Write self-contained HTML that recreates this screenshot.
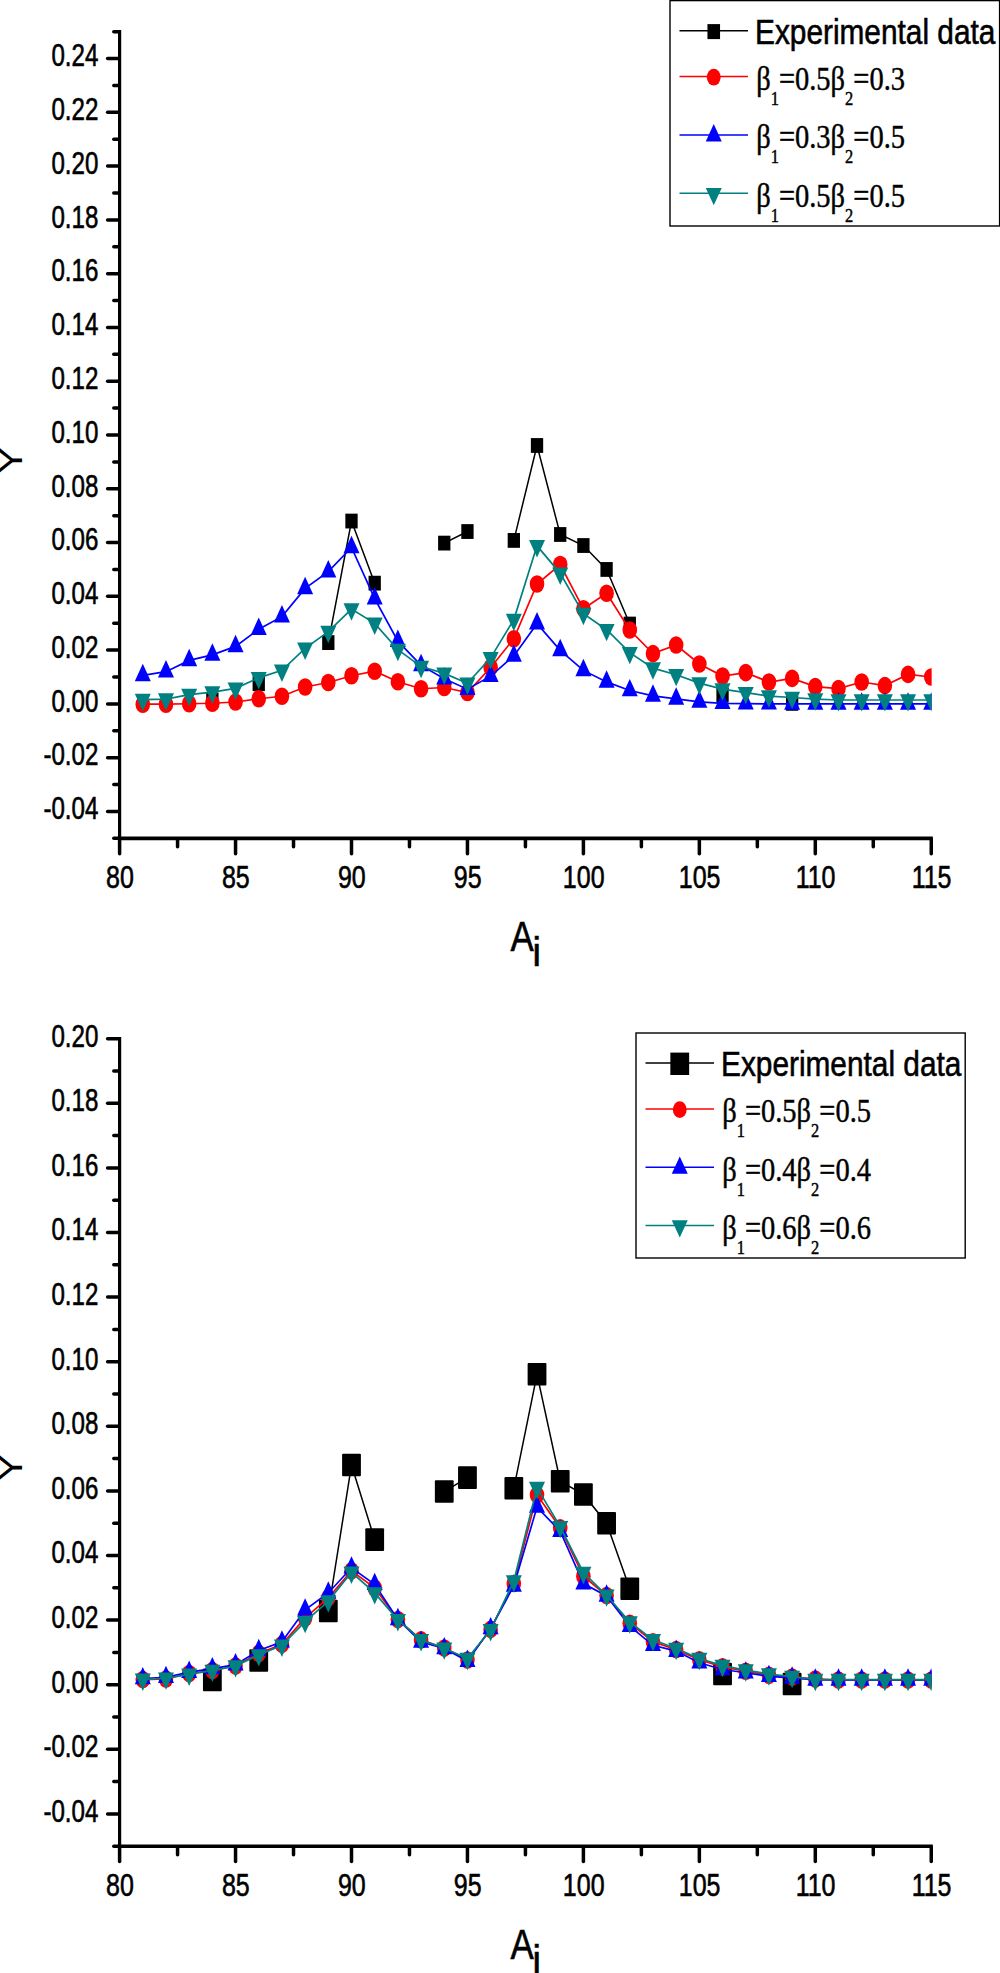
<!DOCTYPE html>
<html lang="en">
<head>
<meta charset="utf-8">
<title>Yield versus mass number</title>
<style>
html,body{margin:0;padding:0;background:#fff;}
body{width:1000px;height:1973px;overflow:hidden;}
svg{display:block;}
text.a{font-family:"Liberation Sans",sans-serif;fill:#000;}
text.t{font-family:"Liberation Serif",serif;fill:#000;}
</style>
</head>
<body>
<svg width="1000" height="1973" viewBox="0 0 1000 1973">
<rect x="0" y="0" width="1000" height="1973" fill="#fff"/>
<clipPath id="c1"><rect x="119.6" y="11.65" width="812.05" height="826.7"/></clipPath>
<g clip-path="url(#c1)">
<polyline points="328.31,642.59 351.5,521.05 374.69,583.16" fill="none" stroke="#000" stroke-width="1.5"/>
<polyline points="444.26,543.1 467.45,531.54" fill="none" stroke="#000" stroke-width="1.5"/>
<polyline points="513.83,540.41 537.02,445.49 560.21,534.49 583.4,545.52 606.59,569.45 629.78,624.04" fill="none" stroke="#000" stroke-width="1.5"/>
<g fill="#000">
<rect x="206.21" y="692.47" width="12.3" height="14.8"/>
<rect x="252.59" y="676.33" width="12.3" height="14.8"/>
<rect x="322.16" y="635.19" width="12.3" height="14.8"/>
<rect x="345.35" y="513.65" width="12.3" height="14.8"/>
<rect x="368.54" y="575.76" width="12.3" height="14.8"/>
<rect x="438.11" y="535.7" width="12.3" height="14.8"/>
<rect x="461.3" y="524.14" width="12.3" height="14.8"/>
<rect x="507.68" y="533.01" width="12.3" height="14.8"/>
<rect x="530.87" y="438.09" width="12.3" height="14.8"/>
<rect x="554.06" y="527.09" width="12.3" height="14.8"/>
<rect x="577.25" y="538.12" width="12.3" height="14.8"/>
<rect x="600.44" y="562.05" width="12.3" height="14.8"/>
<rect x="623.63" y="616.64" width="12.3" height="14.8"/>
<rect x="716.39" y="687.63" width="12.3" height="14.8"/>
<rect x="785.96" y="695.96" width="12.3" height="14.8"/>
</g>
<polyline points="142.79,704.2 165.98,704.2 189.17,703.75 212.36,703.25 235.55,702 258.74,698.75 281.93,696.25 305.12,687 328.31,682.5 351.5,675.75 374.69,671.25 397.88,681.75 421.07,688.75 444.26,687.5 467.45,692.5 490.64,667.5 513.83,638.75 537.02,584 560.21,564.5 583.4,608.8 606.59,593.3 629.78,630 652.97,653.6 676.16,645 699.35,664 722.54,676 745.73,672.6 768.92,682 792.11,678.4 815.3,686.6 838.49,688.6 861.68,682 884.87,685.6 908.06,674.4 931.25,677" fill="none" stroke="#ff0000" stroke-width="1.7"/>
<ellipse cx="142.79" cy="704.2" rx="7.3" ry="8.8" fill="#ff0000"/>
<ellipse cx="165.98" cy="704.2" rx="7.3" ry="8.8" fill="#ff0000"/>
<ellipse cx="189.17" cy="703.75" rx="7.3" ry="8.8" fill="#ff0000"/>
<ellipse cx="212.36" cy="703.25" rx="7.3" ry="8.8" fill="#ff0000"/>
<ellipse cx="235.55" cy="702" rx="7.3" ry="8.8" fill="#ff0000"/>
<ellipse cx="258.74" cy="698.75" rx="7.3" ry="8.8" fill="#ff0000"/>
<ellipse cx="281.93" cy="696.25" rx="7.3" ry="8.8" fill="#ff0000"/>
<ellipse cx="305.12" cy="687" rx="7.3" ry="8.8" fill="#ff0000"/>
<ellipse cx="328.31" cy="682.5" rx="7.3" ry="8.8" fill="#ff0000"/>
<ellipse cx="351.5" cy="675.75" rx="7.3" ry="8.8" fill="#ff0000"/>
<ellipse cx="374.69" cy="671.25" rx="7.3" ry="8.8" fill="#ff0000"/>
<ellipse cx="397.88" cy="681.75" rx="7.3" ry="8.8" fill="#ff0000"/>
<ellipse cx="421.07" cy="688.75" rx="7.3" ry="8.8" fill="#ff0000"/>
<ellipse cx="444.26" cy="687.5" rx="7.3" ry="8.8" fill="#ff0000"/>
<ellipse cx="467.45" cy="692.5" rx="7.3" ry="8.8" fill="#ff0000"/>
<ellipse cx="490.64" cy="667.5" rx="7.3" ry="8.8" fill="#ff0000"/>
<ellipse cx="513.83" cy="638.75" rx="7.3" ry="8.8" fill="#ff0000"/>
<ellipse cx="537.02" cy="584" rx="7.3" ry="8.8" fill="#ff0000"/>
<ellipse cx="560.21" cy="564.5" rx="7.3" ry="8.8" fill="#ff0000"/>
<ellipse cx="583.4" cy="608.8" rx="7.3" ry="8.8" fill="#ff0000"/>
<ellipse cx="606.59" cy="593.3" rx="7.3" ry="8.8" fill="#ff0000"/>
<ellipse cx="629.78" cy="630" rx="7.3" ry="8.8" fill="#ff0000"/>
<ellipse cx="652.97" cy="653.6" rx="7.3" ry="8.8" fill="#ff0000"/>
<ellipse cx="676.16" cy="645" rx="7.3" ry="8.8" fill="#ff0000"/>
<ellipse cx="699.35" cy="664" rx="7.3" ry="8.8" fill="#ff0000"/>
<ellipse cx="722.54" cy="676" rx="7.3" ry="8.8" fill="#ff0000"/>
<ellipse cx="745.73" cy="672.6" rx="7.3" ry="8.8" fill="#ff0000"/>
<ellipse cx="768.92" cy="682" rx="7.3" ry="8.8" fill="#ff0000"/>
<ellipse cx="792.11" cy="678.4" rx="7.3" ry="8.8" fill="#ff0000"/>
<ellipse cx="815.3" cy="686.6" rx="7.3" ry="8.8" fill="#ff0000"/>
<ellipse cx="838.49" cy="688.6" rx="7.3" ry="8.8" fill="#ff0000"/>
<ellipse cx="861.68" cy="682" rx="7.3" ry="8.8" fill="#ff0000"/>
<ellipse cx="884.87" cy="685.6" rx="7.3" ry="8.8" fill="#ff0000"/>
<ellipse cx="908.06" cy="674.4" rx="7.3" ry="8.8" fill="#ff0000"/>
<ellipse cx="931.25" cy="677" rx="7.3" ry="8.8" fill="#ff0000"/>
<polyline points="142.79,675.4 165.98,671.65 189.17,660.4 212.36,654.9 235.55,646.4 258.74,629.15 281.93,616.65 305.12,588.4 328.31,571.65 351.5,547.4 374.69,598.65 397.88,641.15 421.07,665.4 444.26,678.65 467.45,689.15 490.64,676.15 513.83,655.9 537.02,623.65 560.21,650.4 583.4,670.4 606.59,681.9 629.78,690.5 652.97,695.9 676.16,698.9 699.35,701.9 722.54,703.3 745.73,703.7 768.92,703.8 792.11,703.9 815.3,703.9 838.49,703.9 861.68,703.9 884.87,703.9 908.06,703.9 931.25,703.9" fill="none" stroke="#0000ff" stroke-width="1.7"/>
<polygon points="142.79,663.8 134.79,681.2 150.79,681.2" fill="#0000ff"/>
<polygon points="165.98,660.05 157.98,677.45 173.98,677.45" fill="#0000ff"/>
<polygon points="189.17,648.8 181.17,666.2 197.17,666.2" fill="#0000ff"/>
<polygon points="212.36,643.3 204.36,660.7 220.36,660.7" fill="#0000ff"/>
<polygon points="235.55,634.8 227.55,652.2 243.55,652.2" fill="#0000ff"/>
<polygon points="258.74,617.55 250.74,634.95 266.74,634.95" fill="#0000ff"/>
<polygon points="281.93,605.05 273.93,622.45 289.93,622.45" fill="#0000ff"/>
<polygon points="305.12,576.8 297.12,594.2 313.12,594.2" fill="#0000ff"/>
<polygon points="328.31,560.05 320.31,577.45 336.31,577.45" fill="#0000ff"/>
<polygon points="351.5,535.8 343.5,553.2 359.5,553.2" fill="#0000ff"/>
<polygon points="374.69,587.05 366.69,604.45 382.69,604.45" fill="#0000ff"/>
<polygon points="397.88,629.55 389.88,646.95 405.88,646.95" fill="#0000ff"/>
<polygon points="421.07,653.8 413.07,671.2 429.07,671.2" fill="#0000ff"/>
<polygon points="444.26,667.05 436.26,684.45 452.26,684.45" fill="#0000ff"/>
<polygon points="467.45,677.55 459.45,694.95 475.45,694.95" fill="#0000ff"/>
<polygon points="490.64,664.55 482.64,681.95 498.64,681.95" fill="#0000ff"/>
<polygon points="513.83,644.3 505.83,661.7 521.83,661.7" fill="#0000ff"/>
<polygon points="537.02,612.05 529.02,629.45 545.02,629.45" fill="#0000ff"/>
<polygon points="560.21,638.8 552.21,656.2 568.21,656.2" fill="#0000ff"/>
<polygon points="583.4,658.8 575.4,676.2 591.4,676.2" fill="#0000ff"/>
<polygon points="606.59,670.3 598.59,687.7 614.59,687.7" fill="#0000ff"/>
<polygon points="629.78,678.9 621.78,696.3 637.78,696.3" fill="#0000ff"/>
<polygon points="652.97,684.3 644.97,701.7 660.97,701.7" fill="#0000ff"/>
<polygon points="676.16,687.3 668.16,704.7 684.16,704.7" fill="#0000ff"/>
<polygon points="699.35,690.3 691.35,707.7 707.35,707.7" fill="#0000ff"/>
<polygon points="722.54,691.7 714.54,709.1 730.54,709.1" fill="#0000ff"/>
<polygon points="745.73,692.1 737.73,709.5 753.73,709.5" fill="#0000ff"/>
<polygon points="768.92,692.2 760.92,709.6 776.92,709.6" fill="#0000ff"/>
<polygon points="792.11,692.3 784.11,709.7 800.11,709.7" fill="#0000ff"/>
<polygon points="815.3,692.3 807.3,709.7 823.3,709.7" fill="#0000ff"/>
<polygon points="838.49,692.3 830.49,709.7 846.49,709.7" fill="#0000ff"/>
<polygon points="861.68,692.3 853.68,709.7 869.68,709.7" fill="#0000ff"/>
<polygon points="884.87,692.3 876.87,709.7 892.87,709.7" fill="#0000ff"/>
<polygon points="908.06,692.3 900.06,709.7 916.06,709.7" fill="#0000ff"/>
<polygon points="931.25,692.3 923.25,709.7 939.25,709.7" fill="#0000ff"/>
<polyline points="142.79,699.6 165.98,699.1 189.17,694.6 212.36,692.1 235.55,688.35 258.74,677.85 281.93,670.35 305.12,648.35 328.31,631.6 351.5,609.1 374.69,623.35 397.88,649.6 421.07,666.6 444.26,673.35 467.45,683.35 490.64,657.85 513.83,619.6 537.02,545.85 560.21,573.35 583.4,613.6 606.59,629.7 629.78,652.7 652.97,668.1 676.16,674.7 699.35,683.1 722.54,689.1 745.73,692.7 768.92,696.1 792.11,697.5 815.3,699.1 838.49,700 861.68,700 884.87,700 908.06,700 931.25,700" fill="none" stroke="#008080" stroke-width="1.7"/>
<polygon points="142.79,711.2 134.79,693.8 150.79,693.8" fill="#008080"/>
<polygon points="165.98,710.7 157.98,693.3 173.98,693.3" fill="#008080"/>
<polygon points="189.17,706.2 181.17,688.8 197.17,688.8" fill="#008080"/>
<polygon points="212.36,703.7 204.36,686.3 220.36,686.3" fill="#008080"/>
<polygon points="235.55,699.95 227.55,682.55 243.55,682.55" fill="#008080"/>
<polygon points="258.74,689.45 250.74,672.05 266.74,672.05" fill="#008080"/>
<polygon points="281.93,681.95 273.93,664.55 289.93,664.55" fill="#008080"/>
<polygon points="305.12,659.95 297.12,642.55 313.12,642.55" fill="#008080"/>
<polygon points="328.31,643.2 320.31,625.8 336.31,625.8" fill="#008080"/>
<polygon points="351.5,620.7 343.5,603.3 359.5,603.3" fill="#008080"/>
<polygon points="374.69,634.95 366.69,617.55 382.69,617.55" fill="#008080"/>
<polygon points="397.88,661.2 389.88,643.8 405.88,643.8" fill="#008080"/>
<polygon points="421.07,678.2 413.07,660.8 429.07,660.8" fill="#008080"/>
<polygon points="444.26,684.95 436.26,667.55 452.26,667.55" fill="#008080"/>
<polygon points="467.45,694.95 459.45,677.55 475.45,677.55" fill="#008080"/>
<polygon points="490.64,669.45 482.64,652.05 498.64,652.05" fill="#008080"/>
<polygon points="513.83,631.2 505.83,613.8 521.83,613.8" fill="#008080"/>
<polygon points="537.02,557.45 529.02,540.05 545.02,540.05" fill="#008080"/>
<polygon points="560.21,584.95 552.21,567.55 568.21,567.55" fill="#008080"/>
<polygon points="583.4,625.2 575.4,607.8 591.4,607.8" fill="#008080"/>
<polygon points="606.59,641.3 598.59,623.9 614.59,623.9" fill="#008080"/>
<polygon points="629.78,664.3 621.78,646.9 637.78,646.9" fill="#008080"/>
<polygon points="652.97,679.7 644.97,662.3 660.97,662.3" fill="#008080"/>
<polygon points="676.16,686.3 668.16,668.9 684.16,668.9" fill="#008080"/>
<polygon points="699.35,694.7 691.35,677.3 707.35,677.3" fill="#008080"/>
<polygon points="722.54,700.7 714.54,683.3 730.54,683.3" fill="#008080"/>
<polygon points="745.73,704.3 737.73,686.9 753.73,686.9" fill="#008080"/>
<polygon points="768.92,707.7 760.92,690.3 776.92,690.3" fill="#008080"/>
<polygon points="792.11,709.1 784.11,691.7 800.11,691.7" fill="#008080"/>
<polygon points="815.3,710.7 807.3,693.3 823.3,693.3" fill="#008080"/>
<polygon points="838.49,711.6 830.49,694.2 846.49,694.2" fill="#008080"/>
<polygon points="861.68,711.6 853.68,694.2 869.68,694.2" fill="#008080"/>
<polygon points="884.87,711.6 876.87,694.2 892.87,694.2" fill="#008080"/>
<polygon points="908.06,711.6 900.06,694.2 916.06,694.2" fill="#008080"/>
<polygon points="931.25,711.6 923.25,694.2 939.25,694.2" fill="#008080"/>
</g>
<g stroke="#000" fill="none">
<line x1="119.6" y1="30.05" x2="119.6" y2="838.35" stroke-width="3.2"/>
<line x1="118" y1="838.35" x2="932.85" y2="838.35" stroke-width="3.6"/>
<g stroke-width="3.5" stroke-linecap="round">
<line x1="113.8" y1="838.35" x2="118.6" y2="838.35"/>
<line x1="107.6" y1="811.46" x2="118.6" y2="811.46"/>
<line x1="113.8" y1="784.57" x2="118.6" y2="784.57"/>
<line x1="107.6" y1="757.68" x2="118.6" y2="757.68"/>
<line x1="113.8" y1="730.79" x2="118.6" y2="730.79"/>
<line x1="107.6" y1="703.9" x2="118.6" y2="703.9"/>
<line x1="113.8" y1="677.01" x2="118.6" y2="677.01"/>
<line x1="107.6" y1="650.12" x2="118.6" y2="650.12"/>
<line x1="113.8" y1="623.23" x2="118.6" y2="623.23"/>
<line x1="107.6" y1="596.34" x2="118.6" y2="596.34"/>
<line x1="113.8" y1="569.45" x2="118.6" y2="569.45"/>
<line x1="107.6" y1="542.56" x2="118.6" y2="542.56"/>
<line x1="113.8" y1="515.67" x2="118.6" y2="515.67"/>
<line x1="107.6" y1="488.78" x2="118.6" y2="488.78"/>
<line x1="113.8" y1="461.89" x2="118.6" y2="461.89"/>
<line x1="107.6" y1="435" x2="118.6" y2="435"/>
<line x1="113.8" y1="408.11" x2="118.6" y2="408.11"/>
<line x1="107.6" y1="381.22" x2="118.6" y2="381.22"/>
<line x1="113.8" y1="354.33" x2="118.6" y2="354.33"/>
<line x1="107.6" y1="327.44" x2="118.6" y2="327.44"/>
<line x1="113.8" y1="300.55" x2="118.6" y2="300.55"/>
<line x1="107.6" y1="273.66" x2="118.6" y2="273.66"/>
<line x1="113.8" y1="246.77" x2="118.6" y2="246.77"/>
<line x1="107.6" y1="219.88" x2="118.6" y2="219.88"/>
<line x1="113.8" y1="192.99" x2="118.6" y2="192.99"/>
<line x1="107.6" y1="166.1" x2="118.6" y2="166.1"/>
<line x1="113.8" y1="139.21" x2="118.6" y2="139.21"/>
<line x1="107.6" y1="112.32" x2="118.6" y2="112.32"/>
<line x1="113.8" y1="85.43" x2="118.6" y2="85.43"/>
<line x1="107.6" y1="58.54" x2="118.6" y2="58.54"/>
<line x1="113.8" y1="31.65" x2="118.6" y2="31.65"/>
<line x1="119.6" y1="839.35" x2="119.6" y2="853.65"/>
<line x1="177.57" y1="839.35" x2="177.57" y2="846.85"/>
<line x1="235.55" y1="839.35" x2="235.55" y2="853.65"/>
<line x1="293.52" y1="839.35" x2="293.52" y2="846.85"/>
<line x1="351.5" y1="839.35" x2="351.5" y2="853.65"/>
<line x1="409.48" y1="839.35" x2="409.48" y2="846.85"/>
<line x1="467.45" y1="839.35" x2="467.45" y2="853.65"/>
<line x1="525.43" y1="839.35" x2="525.43" y2="846.85"/>
<line x1="583.4" y1="839.35" x2="583.4" y2="853.65"/>
<line x1="641.38" y1="839.35" x2="641.38" y2="846.85"/>
<line x1="699.35" y1="839.35" x2="699.35" y2="853.65"/>
<line x1="757.33" y1="839.35" x2="757.33" y2="846.85"/>
<line x1="815.3" y1="839.35" x2="815.3" y2="853.65"/>
<line x1="873.28" y1="839.35" x2="873.28" y2="846.85"/>
<line x1="931.25" y1="839.35" x2="931.25" y2="853.65"/>
</g></g>
<text class="a" transform="translate(98.3 819.26) scale(0.79 1)" font-size="30.5" text-anchor="end" stroke="#000" stroke-width="0.6">-0.04</text>
<text class="a" transform="translate(98.3 765.48) scale(0.79 1)" font-size="30.5" text-anchor="end" stroke="#000" stroke-width="0.6">-0.02</text>
<text class="a" transform="translate(98.3 711.7) scale(0.79 1)" font-size="30.5" text-anchor="end" stroke="#000" stroke-width="0.6">0.00</text>
<text class="a" transform="translate(98.3 657.92) scale(0.79 1)" font-size="30.5" text-anchor="end" stroke="#000" stroke-width="0.6">0.02</text>
<text class="a" transform="translate(98.3 604.14) scale(0.79 1)" font-size="30.5" text-anchor="end" stroke="#000" stroke-width="0.6">0.04</text>
<text class="a" transform="translate(98.3 550.36) scale(0.79 1)" font-size="30.5" text-anchor="end" stroke="#000" stroke-width="0.6">0.06</text>
<text class="a" transform="translate(98.3 496.58) scale(0.79 1)" font-size="30.5" text-anchor="end" stroke="#000" stroke-width="0.6">0.08</text>
<text class="a" transform="translate(98.3 442.8) scale(0.79 1)" font-size="30.5" text-anchor="end" stroke="#000" stroke-width="0.6">0.10</text>
<text class="a" transform="translate(98.3 389.02) scale(0.79 1)" font-size="30.5" text-anchor="end" stroke="#000" stroke-width="0.6">0.12</text>
<text class="a" transform="translate(98.3 335.24) scale(0.79 1)" font-size="30.5" text-anchor="end" stroke="#000" stroke-width="0.6">0.14</text>
<text class="a" transform="translate(98.3 281.46) scale(0.79 1)" font-size="30.5" text-anchor="end" stroke="#000" stroke-width="0.6">0.16</text>
<text class="a" transform="translate(98.3 227.68) scale(0.79 1)" font-size="30.5" text-anchor="end" stroke="#000" stroke-width="0.6">0.18</text>
<text class="a" transform="translate(98.3 173.9) scale(0.79 1)" font-size="30.5" text-anchor="end" stroke="#000" stroke-width="0.6">0.20</text>
<text class="a" transform="translate(98.3 120.12) scale(0.79 1)" font-size="30.5" text-anchor="end" stroke="#000" stroke-width="0.6">0.22</text>
<text class="a" transform="translate(98.3 66.34) scale(0.79 1)" font-size="30.5" text-anchor="end" stroke="#000" stroke-width="0.6">0.24</text>
<text class="a" transform="translate(119.9 888.35) scale(0.8200000000000001 1)" font-size="30.5" text-anchor="middle" stroke="#000" stroke-width="0.6">80</text>
<text class="a" transform="translate(235.85 888.35) scale(0.8200000000000001 1)" font-size="30.5" text-anchor="middle" stroke="#000" stroke-width="0.6">85</text>
<text class="a" transform="translate(351.8 888.35) scale(0.8200000000000001 1)" font-size="30.5" text-anchor="middle" stroke="#000" stroke-width="0.6">90</text>
<text class="a" transform="translate(467.75 888.35) scale(0.8200000000000001 1)" font-size="30.5" text-anchor="middle" stroke="#000" stroke-width="0.6">95</text>
<text class="a" transform="translate(583.7 888.35) scale(0.8200000000000001 1)" font-size="30.5" text-anchor="middle" stroke="#000" stroke-width="0.6">100</text>
<text class="a" transform="translate(699.65 888.35) scale(0.8200000000000001 1)" font-size="30.5" text-anchor="middle" stroke="#000" stroke-width="0.6">105</text>
<text class="a" transform="translate(815.6 888.35) scale(0.8200000000000001 1)" font-size="30.5" text-anchor="middle" stroke="#000" stroke-width="0.6">110</text>
<text class="a" transform="translate(931.55 888.35) scale(0.8200000000000001 1)" font-size="30.5" text-anchor="middle" stroke="#000" stroke-width="0.6">115</text>
<text class="a" transform="translate(21.6 460.3) scale(0.82 1) rotate(-90)" font-size="41" text-anchor="middle">Y</text>
<text class="a" transform="translate(510.6 950.85) scale(0.83 1)" font-size="42" text-anchor="start" stroke="#000" stroke-width="0.6">A</text>
<text class="a" transform="translate(532.5 965.65) scale(0.93 1)" font-size="41" text-anchor="start" stroke="#000" stroke-width="0.6">i</text>
<rect x="670" y="0.6" width="329.6" height="225.4" fill="#fff" stroke="#000" stroke-width="1.4"/>
<line x1="679.5" y1="30.8" x2="748" y2="30.8" stroke="#000" stroke-width="1.5"/>
<line x1="679.5" y1="76.6" x2="748" y2="76.6" stroke="#ff0000" stroke-width="1.5"/>
<line x1="679.5" y1="135" x2="748" y2="135" stroke="#0000ff" stroke-width="1.5"/>
<line x1="679.5" y1="193.2" x2="748" y2="193.2" stroke="#008080" stroke-width="1.5"/>
<g fill="#000"><rect x="707.45" y="24.1" width="12.6" height="15"/></g>
<ellipse cx="713.75" cy="77.2" rx="6.9" ry="8.4" fill="#ff0000"/>
<polygon points="713.75,124.1 705.75,141.5 721.75,141.5" fill="#0000ff"/>
<polygon points="713.75,205.3 705.75,187.9 721.75,187.9" fill="#008080"/>
<text class="a" transform="translate(755 44.2) scale(0.838 1)" font-size="35.6" text-anchor="start" stroke="#000" stroke-width="0.6">Experimental data</text>
<text class="t" transform="translate(756.2 90) scale(0.864 1)" font-size="33" text-anchor="start" stroke="#000" stroke-width="0.45">β<tspan font-size="19" dy="15">1</tspan><tspan dy="-15">=0.5β</tspan><tspan font-size="19" dy="15">2</tspan><tspan dy="-15">=0.3</tspan></text>
<text class="t" transform="translate(756.2 148.4) scale(0.864 1)" font-size="33" text-anchor="start" stroke="#000" stroke-width="0.45">β<tspan font-size="19" dy="15">1</tspan><tspan dy="-15">=0.3β</tspan><tspan font-size="19" dy="15">2</tspan><tspan dy="-15">=0.5</tspan></text>
<text class="t" transform="translate(756.2 206.6) scale(0.864 1)" font-size="33" text-anchor="start" stroke="#000" stroke-width="0.45">β<tspan font-size="19" dy="15">1</tspan><tspan dy="-15">=0.5β</tspan><tspan font-size="19" dy="15">2</tspan><tspan dy="-15">=0.5</tspan></text>
<clipPath id="c2"><rect x="119.6" y="1018.7" width="812.05" height="827.5"/></clipPath>
<g clip-path="url(#c2)">
<polyline points="328.31,1611.06 351.5,1465.06 374.69,1539.67" fill="none" stroke="#000" stroke-width="1.5"/>
<polyline points="444.26,1491.55 467.45,1477.66" fill="none" stroke="#000" stroke-width="1.5"/>
<polyline points="513.83,1488.32 537.02,1374.3 560.21,1481.21 583.4,1494.45 606.59,1523.2 629.78,1588.77" fill="none" stroke="#000" stroke-width="1.5"/>
<g fill="#000">
<rect x="202.96" y="1668.56" width="18.8" height="22.6" rx="1"/>
<rect x="249.34" y="1649.18" width="18.8" height="22.6" rx="1"/>
<rect x="318.91" y="1599.76" width="18.8" height="22.6" rx="1"/>
<rect x="342.1" y="1453.76" width="18.8" height="22.6" rx="1"/>
<rect x="365.29" y="1528.37" width="18.8" height="22.6" rx="1"/>
<rect x="434.86" y="1480.25" width="18.8" height="22.6" rx="1"/>
<rect x="458.05" y="1466.36" width="18.8" height="22.6" rx="1"/>
<rect x="504.43" y="1477.02" width="18.8" height="22.6" rx="1"/>
<rect x="527.62" y="1363" width="18.8" height="22.6" rx="1"/>
<rect x="550.81" y="1469.91" width="18.8" height="22.6" rx="1"/>
<rect x="574" y="1483.15" width="18.8" height="22.6" rx="1"/>
<rect x="597.19" y="1511.9" width="18.8" height="22.6" rx="1"/>
<rect x="620.38" y="1577.47" width="18.8" height="22.6" rx="1"/>
<rect x="713.14" y="1662.74" width="18.8" height="22.6" rx="1"/>
<rect x="782.71" y="1672.75" width="18.8" height="22.6" rx="1"/>
</g>
<polyline points="142.79,1679.53 165.98,1678.93 189.17,1673.53 212.36,1670.53 235.55,1666.02 258.74,1653.41 281.93,1644.4 305.12,1617.97 328.31,1597.85 351.5,1570.83 374.69,1587.94 397.88,1619.48 421.07,1639.9 444.26,1648 467.45,1660.02 490.64,1629.39 513.83,1583.44 537.02,1494.85 560.21,1527.88 583.4,1576.23 606.59,1595.57 629.78,1623.2 652.97,1641.7 676.16,1649.63 699.35,1659.72 722.54,1666.92 745.73,1671.25 768.92,1675.33 792.11,1677.01 815.3,1678.93 838.49,1680.02 861.68,1680.02 884.87,1680.02 908.06,1680.02 931.25,1680.02" fill="none" stroke="#ff0000" stroke-width="1.7"/>
<ellipse cx="142.79" cy="1679.53" rx="7.3" ry="8.8" fill="#ff0000"/>
<ellipse cx="165.98" cy="1678.93" rx="7.3" ry="8.8" fill="#ff0000"/>
<ellipse cx="189.17" cy="1673.53" rx="7.3" ry="8.8" fill="#ff0000"/>
<ellipse cx="212.36" cy="1670.53" rx="7.3" ry="8.8" fill="#ff0000"/>
<ellipse cx="235.55" cy="1666.02" rx="7.3" ry="8.8" fill="#ff0000"/>
<ellipse cx="258.74" cy="1653.41" rx="7.3" ry="8.8" fill="#ff0000"/>
<ellipse cx="281.93" cy="1644.4" rx="7.3" ry="8.8" fill="#ff0000"/>
<ellipse cx="305.12" cy="1617.97" rx="7.3" ry="8.8" fill="#ff0000"/>
<ellipse cx="328.31" cy="1597.85" rx="7.3" ry="8.8" fill="#ff0000"/>
<ellipse cx="351.5" cy="1570.83" rx="7.3" ry="8.8" fill="#ff0000"/>
<ellipse cx="374.69" cy="1587.94" rx="7.3" ry="8.8" fill="#ff0000"/>
<ellipse cx="397.88" cy="1619.48" rx="7.3" ry="8.8" fill="#ff0000"/>
<ellipse cx="421.07" cy="1639.9" rx="7.3" ry="8.8" fill="#ff0000"/>
<ellipse cx="444.26" cy="1648" rx="7.3" ry="8.8" fill="#ff0000"/>
<ellipse cx="467.45" cy="1660.02" rx="7.3" ry="8.8" fill="#ff0000"/>
<ellipse cx="490.64" cy="1629.39" rx="7.3" ry="8.8" fill="#ff0000"/>
<ellipse cx="513.83" cy="1583.44" rx="7.3" ry="8.8" fill="#ff0000"/>
<ellipse cx="537.02" cy="1494.85" rx="7.3" ry="8.8" fill="#ff0000"/>
<ellipse cx="560.21" cy="1527.88" rx="7.3" ry="8.8" fill="#ff0000"/>
<ellipse cx="583.4" cy="1576.23" rx="7.3" ry="8.8" fill="#ff0000"/>
<ellipse cx="606.59" cy="1595.57" rx="7.3" ry="8.8" fill="#ff0000"/>
<ellipse cx="629.78" cy="1623.2" rx="7.3" ry="8.8" fill="#ff0000"/>
<ellipse cx="652.97" cy="1641.7" rx="7.3" ry="8.8" fill="#ff0000"/>
<ellipse cx="676.16" cy="1649.63" rx="7.3" ry="8.8" fill="#ff0000"/>
<ellipse cx="699.35" cy="1659.72" rx="7.3" ry="8.8" fill="#ff0000"/>
<ellipse cx="722.54" cy="1666.92" rx="7.3" ry="8.8" fill="#ff0000"/>
<ellipse cx="745.73" cy="1671.25" rx="7.3" ry="8.8" fill="#ff0000"/>
<ellipse cx="768.92" cy="1675.33" rx="7.3" ry="8.8" fill="#ff0000"/>
<ellipse cx="792.11" cy="1677.01" rx="7.3" ry="8.8" fill="#ff0000"/>
<ellipse cx="815.3" cy="1678.93" rx="7.3" ry="8.8" fill="#ff0000"/>
<ellipse cx="838.49" cy="1680.02" rx="7.3" ry="8.8" fill="#ff0000"/>
<ellipse cx="861.68" cy="1680.02" rx="7.3" ry="8.8" fill="#ff0000"/>
<ellipse cx="884.87" cy="1680.02" rx="7.3" ry="8.8" fill="#ff0000"/>
<ellipse cx="908.06" cy="1680.02" rx="7.3" ry="8.8" fill="#ff0000"/>
<ellipse cx="931.25" cy="1680.02" rx="7.3" ry="8.8" fill="#ff0000"/>
<polyline points="142.79,1678.56 165.98,1677.27 189.17,1672.1 212.36,1668.55 235.55,1664.67 258.74,1650.46 281.93,1641.74 305.12,1609.76 328.31,1592.97 351.5,1567.77 374.69,1584.25 397.88,1619.45 421.07,1642.06 444.26,1648.52 467.45,1661.12 490.64,1628.5 513.83,1585.86 537.02,1507.05 560.21,1531.28 583.4,1583.6 606.59,1595.88 629.78,1626.24 652.97,1645.29 676.16,1651.11 699.35,1662.74 722.54,1669.52 745.73,1672.75 768.92,1676.3 792.11,1677.92 815.3,1679.86 838.49,1679.86 861.68,1679.86 884.87,1679.86 908.06,1679.86 931.25,1679.86" fill="none" stroke="#0000ff" stroke-width="1.7"/>
<polygon points="142.79,1666.96 134.79,1684.36 150.79,1684.36" fill="#0000ff"/>
<polygon points="165.98,1665.67 157.98,1683.07 173.98,1683.07" fill="#0000ff"/>
<polygon points="189.17,1660.5 181.17,1677.9 197.17,1677.9" fill="#0000ff"/>
<polygon points="212.36,1656.95 204.36,1674.35 220.36,1674.35" fill="#0000ff"/>
<polygon points="235.55,1653.07 227.55,1670.47 243.55,1670.47" fill="#0000ff"/>
<polygon points="258.74,1638.86 250.74,1656.26 266.74,1656.26" fill="#0000ff"/>
<polygon points="281.93,1630.14 273.93,1647.54 289.93,1647.54" fill="#0000ff"/>
<polygon points="305.12,1598.16 297.12,1615.56 313.12,1615.56" fill="#0000ff"/>
<polygon points="328.31,1581.37 320.31,1598.77 336.31,1598.77" fill="#0000ff"/>
<polygon points="351.5,1556.17 343.5,1573.57 359.5,1573.57" fill="#0000ff"/>
<polygon points="374.69,1572.65 366.69,1590.05 382.69,1590.05" fill="#0000ff"/>
<polygon points="397.88,1607.85 389.88,1625.25 405.88,1625.25" fill="#0000ff"/>
<polygon points="421.07,1630.46 413.07,1647.86 429.07,1647.86" fill="#0000ff"/>
<polygon points="444.26,1636.92 436.26,1654.32 452.26,1654.32" fill="#0000ff"/>
<polygon points="467.45,1649.52 459.45,1666.92 475.45,1666.92" fill="#0000ff"/>
<polygon points="490.64,1616.9 482.64,1634.3 498.64,1634.3" fill="#0000ff"/>
<polygon points="513.83,1574.26 505.83,1591.66 521.83,1591.66" fill="#0000ff"/>
<polygon points="537.02,1495.45 529.02,1512.85 545.02,1512.85" fill="#0000ff"/>
<polygon points="560.21,1519.68 552.21,1537.08 568.21,1537.08" fill="#0000ff"/>
<polygon points="583.4,1572 575.4,1589.4 591.4,1589.4" fill="#0000ff"/>
<polygon points="606.59,1584.28 598.59,1601.67 614.59,1601.67" fill="#0000ff"/>
<polygon points="629.78,1614.64 621.78,1632.04 637.78,1632.04" fill="#0000ff"/>
<polygon points="652.97,1633.69 644.97,1651.09 660.97,1651.09" fill="#0000ff"/>
<polygon points="676.16,1639.51 668.16,1656.91 684.16,1656.91" fill="#0000ff"/>
<polygon points="699.35,1651.14 691.35,1668.54 707.35,1668.54" fill="#0000ff"/>
<polygon points="722.54,1657.92 714.54,1675.32 730.54,1675.32" fill="#0000ff"/>
<polygon points="745.73,1661.15 737.73,1678.55 753.73,1678.55" fill="#0000ff"/>
<polygon points="768.92,1664.7 760.92,1682.1 776.92,1682.1" fill="#0000ff"/>
<polygon points="792.11,1666.32 784.11,1683.72 800.11,1683.72" fill="#0000ff"/>
<polygon points="815.3,1668.26 807.3,1685.65 823.3,1685.65" fill="#0000ff"/>
<polygon points="838.49,1668.26 830.49,1685.65 846.49,1685.65" fill="#0000ff"/>
<polygon points="861.68,1668.26 853.68,1685.65 869.68,1685.65" fill="#0000ff"/>
<polygon points="884.87,1668.26 876.87,1685.65 892.87,1685.65" fill="#0000ff"/>
<polygon points="908.06,1668.26 900.06,1685.65 916.06,1685.65" fill="#0000ff"/>
<polygon points="931.25,1668.26 923.25,1685.65 939.25,1685.65" fill="#0000ff"/>
<polyline points="142.79,1679.34 165.98,1678.24 189.17,1674.36 212.36,1670.49 235.55,1665.97 258.74,1654.98 281.93,1645.29 305.12,1621.72 328.31,1601.04 351.5,1572.3 374.69,1592.97 397.88,1619.78 421.07,1639.8 444.26,1648.2 467.45,1658.54 490.64,1629.79 513.83,1581.02 537.02,1487.67 560.21,1526.75 583.4,1572.62 606.59,1595.23 629.78,1622.04 652.97,1639.8 676.16,1648.52 699.35,1658.54 722.54,1665.64 745.73,1670.16 768.92,1674.04 792.11,1676.62 815.3,1679.53 838.49,1679.53 861.68,1679.53 884.87,1679.53 908.06,1679.53 931.25,1679.53" fill="none" stroke="#008080" stroke-width="1.7"/>
<polygon points="142.79,1690.94 134.79,1673.54 150.79,1673.54" fill="#008080"/>
<polygon points="165.98,1689.84 157.98,1672.44 173.98,1672.44" fill="#008080"/>
<polygon points="189.17,1685.96 181.17,1668.56 197.17,1668.56" fill="#008080"/>
<polygon points="212.36,1682.09 204.36,1664.69 220.36,1664.69" fill="#008080"/>
<polygon points="235.55,1677.57 227.55,1660.17 243.55,1660.17" fill="#008080"/>
<polygon points="258.74,1666.58 250.74,1649.18 266.74,1649.18" fill="#008080"/>
<polygon points="281.93,1656.89 273.93,1639.49 289.93,1639.49" fill="#008080"/>
<polygon points="305.12,1633.32 297.12,1615.92 313.12,1615.92" fill="#008080"/>
<polygon points="328.31,1612.64 320.31,1595.24 336.31,1595.24" fill="#008080"/>
<polygon points="351.5,1583.9 343.5,1566.5 359.5,1566.5" fill="#008080"/>
<polygon points="374.69,1604.57 366.69,1587.17 382.69,1587.17" fill="#008080"/>
<polygon points="397.88,1631.38 389.88,1613.98 405.88,1613.98" fill="#008080"/>
<polygon points="421.07,1651.4 413.07,1634 429.07,1634" fill="#008080"/>
<polygon points="444.26,1659.8 436.26,1642.4 452.26,1642.4" fill="#008080"/>
<polygon points="467.45,1670.14 459.45,1652.74 475.45,1652.74" fill="#008080"/>
<polygon points="490.64,1641.39 482.64,1623.99 498.64,1623.99" fill="#008080"/>
<polygon points="513.83,1592.62 505.83,1575.22 521.83,1575.22" fill="#008080"/>
<polygon points="537.02,1499.27 529.02,1481.87 545.02,1481.87" fill="#008080"/>
<polygon points="560.21,1538.35 552.21,1520.95 568.21,1520.95" fill="#008080"/>
<polygon points="583.4,1584.22 575.4,1566.82 591.4,1566.82" fill="#008080"/>
<polygon points="606.59,1606.83 598.59,1589.43 614.59,1589.43" fill="#008080"/>
<polygon points="629.78,1633.64 621.78,1616.24 637.78,1616.24" fill="#008080"/>
<polygon points="652.97,1651.4 644.97,1634 660.97,1634" fill="#008080"/>
<polygon points="676.16,1660.12 668.16,1642.72 684.16,1642.72" fill="#008080"/>
<polygon points="699.35,1670.14 691.35,1652.74 707.35,1652.74" fill="#008080"/>
<polygon points="722.54,1677.24 714.54,1659.84 730.54,1659.84" fill="#008080"/>
<polygon points="745.73,1681.76 737.73,1664.37 753.73,1664.37" fill="#008080"/>
<polygon points="768.92,1685.64 760.92,1668.24 776.92,1668.24" fill="#008080"/>
<polygon points="792.11,1688.22 784.11,1670.83 800.11,1670.83" fill="#008080"/>
<polygon points="815.3,1691.13 807.3,1673.73 823.3,1673.73" fill="#008080"/>
<polygon points="838.49,1691.13 830.49,1673.73 846.49,1673.73" fill="#008080"/>
<polygon points="861.68,1691.13 853.68,1673.73 869.68,1673.73" fill="#008080"/>
<polygon points="884.87,1691.13 876.87,1673.73 892.87,1673.73" fill="#008080"/>
<polygon points="908.06,1691.13 900.06,1673.73 916.06,1673.73" fill="#008080"/>
<polygon points="931.25,1691.13 923.25,1673.73 939.25,1673.73" fill="#008080"/>
</g>
<g stroke="#000" fill="none">
<line x1="119.6" y1="1037.1" x2="119.6" y2="1846.2" stroke-width="3.2"/>
<line x1="118" y1="1846.2" x2="932.85" y2="1846.2" stroke-width="3.6"/>
<g stroke-width="3.5" stroke-linecap="round">
<line x1="113.8" y1="1846.2" x2="118.6" y2="1846.2"/>
<line x1="107.6" y1="1813.9" x2="118.6" y2="1813.9"/>
<line x1="113.8" y1="1781.6" x2="118.6" y2="1781.6"/>
<line x1="107.6" y1="1749.3" x2="118.6" y2="1749.3"/>
<line x1="113.8" y1="1717" x2="118.6" y2="1717"/>
<line x1="107.6" y1="1684.7" x2="118.6" y2="1684.7"/>
<line x1="113.8" y1="1652.4" x2="118.6" y2="1652.4"/>
<line x1="107.6" y1="1620.1" x2="118.6" y2="1620.1"/>
<line x1="113.8" y1="1587.8" x2="118.6" y2="1587.8"/>
<line x1="107.6" y1="1555.5" x2="118.6" y2="1555.5"/>
<line x1="113.8" y1="1523.2" x2="118.6" y2="1523.2"/>
<line x1="107.6" y1="1490.9" x2="118.6" y2="1490.9"/>
<line x1="113.8" y1="1458.6" x2="118.6" y2="1458.6"/>
<line x1="107.6" y1="1426.3" x2="118.6" y2="1426.3"/>
<line x1="113.8" y1="1394" x2="118.6" y2="1394"/>
<line x1="107.6" y1="1361.7" x2="118.6" y2="1361.7"/>
<line x1="113.8" y1="1329.4" x2="118.6" y2="1329.4"/>
<line x1="107.6" y1="1297.1" x2="118.6" y2="1297.1"/>
<line x1="113.8" y1="1264.8" x2="118.6" y2="1264.8"/>
<line x1="107.6" y1="1232.5" x2="118.6" y2="1232.5"/>
<line x1="113.8" y1="1200.2" x2="118.6" y2="1200.2"/>
<line x1="107.6" y1="1167.9" x2="118.6" y2="1167.9"/>
<line x1="113.8" y1="1135.6" x2="118.6" y2="1135.6"/>
<line x1="107.6" y1="1103.3" x2="118.6" y2="1103.3"/>
<line x1="113.8" y1="1071" x2="118.6" y2="1071"/>
<line x1="107.6" y1="1038.7" x2="118.6" y2="1038.7"/>
<line x1="119.6" y1="1847.2" x2="119.6" y2="1861.5"/>
<line x1="177.57" y1="1847.2" x2="177.57" y2="1854.7"/>
<line x1="235.55" y1="1847.2" x2="235.55" y2="1861.5"/>
<line x1="293.52" y1="1847.2" x2="293.52" y2="1854.7"/>
<line x1="351.5" y1="1847.2" x2="351.5" y2="1861.5"/>
<line x1="409.48" y1="1847.2" x2="409.48" y2="1854.7"/>
<line x1="467.45" y1="1847.2" x2="467.45" y2="1861.5"/>
<line x1="525.43" y1="1847.2" x2="525.43" y2="1854.7"/>
<line x1="583.4" y1="1847.2" x2="583.4" y2="1861.5"/>
<line x1="641.38" y1="1847.2" x2="641.38" y2="1854.7"/>
<line x1="699.35" y1="1847.2" x2="699.35" y2="1861.5"/>
<line x1="757.33" y1="1847.2" x2="757.33" y2="1854.7"/>
<line x1="815.3" y1="1847.2" x2="815.3" y2="1861.5"/>
<line x1="873.28" y1="1847.2" x2="873.28" y2="1854.7"/>
<line x1="931.25" y1="1847.2" x2="931.25" y2="1861.5"/>
</g></g>
<text class="a" transform="translate(98.3 1821.7) scale(0.79 1)" font-size="30.5" text-anchor="end" stroke="#000" stroke-width="0.6">-0.04</text>
<text class="a" transform="translate(98.3 1757.1) scale(0.79 1)" font-size="30.5" text-anchor="end" stroke="#000" stroke-width="0.6">-0.02</text>
<text class="a" transform="translate(98.3 1692.5) scale(0.79 1)" font-size="30.5" text-anchor="end" stroke="#000" stroke-width="0.6">0.00</text>
<text class="a" transform="translate(98.3 1627.9) scale(0.79 1)" font-size="30.5" text-anchor="end" stroke="#000" stroke-width="0.6">0.02</text>
<text class="a" transform="translate(98.3 1563.3) scale(0.79 1)" font-size="30.5" text-anchor="end" stroke="#000" stroke-width="0.6">0.04</text>
<text class="a" transform="translate(98.3 1498.7) scale(0.79 1)" font-size="30.5" text-anchor="end" stroke="#000" stroke-width="0.6">0.06</text>
<text class="a" transform="translate(98.3 1434.1) scale(0.79 1)" font-size="30.5" text-anchor="end" stroke="#000" stroke-width="0.6">0.08</text>
<text class="a" transform="translate(98.3 1369.5) scale(0.79 1)" font-size="30.5" text-anchor="end" stroke="#000" stroke-width="0.6">0.10</text>
<text class="a" transform="translate(98.3 1304.9) scale(0.79 1)" font-size="30.5" text-anchor="end" stroke="#000" stroke-width="0.6">0.12</text>
<text class="a" transform="translate(98.3 1240.3) scale(0.79 1)" font-size="30.5" text-anchor="end" stroke="#000" stroke-width="0.6">0.14</text>
<text class="a" transform="translate(98.3 1175.7) scale(0.79 1)" font-size="30.5" text-anchor="end" stroke="#000" stroke-width="0.6">0.16</text>
<text class="a" transform="translate(98.3 1111.1) scale(0.79 1)" font-size="30.5" text-anchor="end" stroke="#000" stroke-width="0.6">0.18</text>
<text class="a" transform="translate(98.3 1046.5) scale(0.79 1)" font-size="30.5" text-anchor="end" stroke="#000" stroke-width="0.6">0.20</text>
<text class="a" transform="translate(119.9 1896.2) scale(0.8200000000000001 1)" font-size="30.5" text-anchor="middle" stroke="#000" stroke-width="0.6">80</text>
<text class="a" transform="translate(235.85 1896.2) scale(0.8200000000000001 1)" font-size="30.5" text-anchor="middle" stroke="#000" stroke-width="0.6">85</text>
<text class="a" transform="translate(351.8 1896.2) scale(0.8200000000000001 1)" font-size="30.5" text-anchor="middle" stroke="#000" stroke-width="0.6">90</text>
<text class="a" transform="translate(467.75 1896.2) scale(0.8200000000000001 1)" font-size="30.5" text-anchor="middle" stroke="#000" stroke-width="0.6">95</text>
<text class="a" transform="translate(583.7 1896.2) scale(0.8200000000000001 1)" font-size="30.5" text-anchor="middle" stroke="#000" stroke-width="0.6">100</text>
<text class="a" transform="translate(699.65 1896.2) scale(0.8200000000000001 1)" font-size="30.5" text-anchor="middle" stroke="#000" stroke-width="0.6">105</text>
<text class="a" transform="translate(815.6 1896.2) scale(0.8200000000000001 1)" font-size="30.5" text-anchor="middle" stroke="#000" stroke-width="0.6">110</text>
<text class="a" transform="translate(931.55 1896.2) scale(0.8200000000000001 1)" font-size="30.5" text-anchor="middle" stroke="#000" stroke-width="0.6">115</text>
<text class="a" transform="translate(21.6 1467.5) scale(0.82 1) rotate(-90)" font-size="41" text-anchor="middle">Y</text>
<text class="a" transform="translate(510.6 1958.7) scale(0.83 1)" font-size="42" text-anchor="start" stroke="#000" stroke-width="0.6">A</text>
<text class="a" transform="translate(532.5 1973.5) scale(0.93 1)" font-size="41" text-anchor="start" stroke="#000" stroke-width="0.6">i</text>
<rect x="636" y="1033" width="329.2" height="225" fill="#fff" stroke="#000" stroke-width="1.4"/>
<line x1="645.5" y1="1063" x2="714" y2="1063" stroke="#000" stroke-width="1.5"/>
<line x1="645.5" y1="1109" x2="714" y2="1109" stroke="#ff0000" stroke-width="1.5"/>
<line x1="645.5" y1="1167.3" x2="714" y2="1167.3" stroke="#0000ff" stroke-width="1.5"/>
<line x1="645.5" y1="1225.5" x2="714" y2="1225.5" stroke="#008080" stroke-width="1.5"/>
<g fill="#000"><rect x="670.35" y="1052.6" width="18.8" height="22.4"/></g>
<ellipse cx="679.75" cy="1109.6" rx="6.9" ry="8.4" fill="#ff0000"/>
<polygon points="679.75,1156.4 671.75,1173.8 687.75,1173.8" fill="#0000ff"/>
<polygon points="679.75,1237.6 671.75,1220.2 687.75,1220.2" fill="#008080"/>
<text class="a" transform="translate(721 1076.4) scale(0.838 1)" font-size="35.6" text-anchor="start" stroke="#000" stroke-width="0.6">Experimental data</text>
<text class="t" transform="translate(722.2 1122.4) scale(0.864 1)" font-size="33" text-anchor="start" stroke="#000" stroke-width="0.45">β<tspan font-size="19" dy="15">1</tspan><tspan dy="-15">=0.5β</tspan><tspan font-size="19" dy="15">2</tspan><tspan dy="-15">=0.5</tspan></text>
<text class="t" transform="translate(722.2 1180.7) scale(0.864 1)" font-size="33" text-anchor="start" stroke="#000" stroke-width="0.45">β<tspan font-size="19" dy="15">1</tspan><tspan dy="-15">=0.4β</tspan><tspan font-size="19" dy="15">2</tspan><tspan dy="-15">=0.4</tspan></text>
<text class="t" transform="translate(722.2 1238.9) scale(0.864 1)" font-size="33" text-anchor="start" stroke="#000" stroke-width="0.45">β<tspan font-size="19" dy="15">1</tspan><tspan dy="-15">=0.6β</tspan><tspan font-size="19" dy="15">2</tspan><tspan dy="-15">=0.6</tspan></text>
</svg>
</body>
</html>
